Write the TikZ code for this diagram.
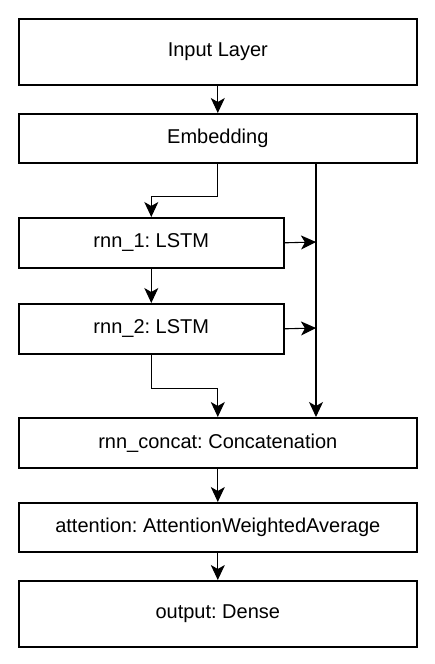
\documentclass[tikz,border=0pt]{standalone}
\usepackage{fontspec}
\setmainfont{Liberation Sans}
\usetikzlibrary{arrows.meta}
\frenchspacing
\begin{document}
\begin{tikzpicture}[x=1pt,y=-1pt,
  layer/.style={draw, line width=1.6pt, rectangle, anchor=north west, inner sep=0pt, font=\fontsize{20}{24}\selectfont\frenchspacing},
  conn/.style={line width=1.1pt, -{Stealth[length=15pt,width=14pt,inset=4pt]}}]
\useasboundingbox (0,0) rectangle (434,664);
\fill[white] (0,0) rectangle (434,664);
\node[layer, minimum width=398pt, minimum height=66pt] (input) at (18,18) {Input Layer};
\node[layer, minimum width=398pt, minimum height=49pt] (emb) at (18,113) {Embedding};
\node[layer, minimum width=265pt, minimum height=50pt] (rnn1) at (18,217) {rnn\_1: LSTM};
\node[layer, minimum width=265pt, minimum height=50pt] (rnn2) at (18,303) {rnn\_2: LSTM};
\node[layer, minimum width=398pt, minimum height=50pt] (concat) at (18,417) {rnn\_concat: Concatenation};
\node[layer, minimum width=398pt, minimum height=49pt] (att) at (18,502) {attention: AttentionWeightedAverage};
\node[layer, minimum width=398pt, minimum height=66pt] (out) at (18,580) {output: Dense};
\coordinate (j1) at (316,242);
\coordinate (j2) at (316,328);
\draw[conn] (input.south) -- (emb.north);
\draw[conn] (emb.south) -- ++(0,33) -| (rnn1.north);
\draw[conn] (emb.south -| j1) -- (concat.north -| j1);
\draw[conn] (rnn1.east) -- (j1);
\draw[conn] (rnn2.east) -- (j2);
\draw[conn] (rnn1.south) -- (rnn2.north);
\draw[conn] (rnn2.south) -- ++(0,34) -| (concat.north);
\draw[conn] (concat.south) -- (att.north);
\draw[conn] (att.south) -- (out.north);
\end{tikzpicture}
\end{document}
